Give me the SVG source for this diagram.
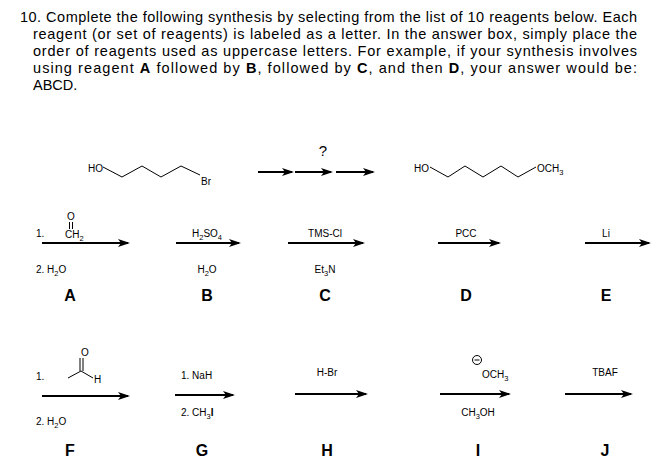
<svg xmlns="http://www.w3.org/2000/svg" width="655" height="476" viewBox="0 0 655 476">
<style>
text{font-family:"Liberation Sans",Arial,sans-serif;fill:#000}
.h{font-size:14.5px}
.l{font-size:10px}
.s{font-size:7.5px}
.big{font-size:16px;font-weight:bold;text-anchor:middle}
.m{text-anchor:middle}
.b{fill:none;stroke:#000;stroke-width:1}
.ar{stroke:#000;stroke-width:2;fill:none;marker-end:url(#ah)}
</style>
<defs><marker id="ah" markerWidth="12" markerHeight="8" refX="10" refY="4" orient="auto" markerUnits="userSpaceOnUse"><path d="M0,0 L12,4 L0,8 L3,4 Z" fill="#000"/></marker></defs>
<rect width="655" height="476" fill="#fff"/>
<g id="question">
<text class="h" x="20" y="22" textLength="617">10. Complete the following synthesis by selecting from the list of 10 reagents below. Each</text>
<text class="h" x="33" y="39" textLength="604">reagent (or set of reagents) is labeled as a letter. In the answer box, simply place the</text>
<text class="h" x="33" y="56" textLength="604">order of reagents used as uppercase letters. For example, if your synthesis involves</text>
<text class="h" x="33" y="73" textLength="604">using reagent <tspan font-weight="bold">A</tspan> followed by <tspan font-weight="bold">B</tspan>, followed by <tspan font-weight="bold">C</tspan>, and then <tspan font-weight="bold">D</tspan>, your answer would be:</text>
<text class="h" x="33" y="90">ABCD.</text>
</g>
<g id="start">
<text class="l" x="88" y="172">HO</text>
<polyline class="b" points="103,167 122,177 142,166 161,177 181,166 200,175"/>
<text class="l" x="201" y="185">Br</text>
</g>
<g id="product">
<text class="l" x="414" y="172">HO</text>
<polyline class="b" points="430,167 448,177 465,166 483,177 501,166 518,177 536,167"/>
<text class="l" x="537" y="172">OCH<tspan class="s" dy="3">3</tspan></text>
</g>
<text class="m" font-size="15" x="323" y="156">?</text>
<g id="connectors">
<line class="ar" x1="258" y1="172" x2="292" y2="172"/>
<line class="ar" x1="295" y1="172" x2="331" y2="172"/>
<line class="ar" x1="336" y1="172" x2="373" y2="172"/>
<line class="ar" x1="42" y1="243" x2="128" y2="243"/>
<line class="ar" x1="176" y1="243" x2="239" y2="243"/>
<line class="ar" x1="288" y1="243" x2="363" y2="243"/>
<line class="ar" x1="438" y1="243" x2="499" y2="243"/>
<line class="ar" x1="585" y1="243" x2="649" y2="243"/>
<line class="ar" x1="42" y1="396" x2="128" y2="396"/>
<line class="ar" x1="175" y1="395" x2="233" y2="395"/>
<line class="ar" x1="295" y1="394" x2="366" y2="394"/>
<line class="ar" x1="440" y1="394" x2="509" y2="394"/>
<line class="ar" x1="565" y1="394" x2="631" y2="394"/>
</g>
<g id="A">
<text class="l" x="36" y="237">1.</text>
<text class="l" x="67" y="220">O</text>
<line class="b" x1="69.5" y1="222" x2="69.5" y2="229"/><line class="b" x1="72.5" y1="222" x2="72.5" y2="229"/>
<text class="l" x="65" y="238">CH<tspan class="s" dy="3">2</tspan></text>
<text class="l" x="36" y="273">2. H<tspan class="s" dy="3">2</tspan><tspan dy="-3">O</tspan></text>
<text class="big" x="70" y="301">A</text>
</g>
<g id="B">
<text class="l m" x="207" y="237">H<tspan class="s" dy="3">2</tspan><tspan dy="-3">SO</tspan><tspan class="s" dy="3">4</tspan></text>
<text class="l m" x="207" y="273">H<tspan class="s" dy="3">2</tspan><tspan dy="-3">O</tspan></text>
<text class="big" x="207" y="301">B</text>
</g>
<g id="C">
<text class="l m" x="325" y="237">TMS-Cl</text>
<text class="l m" x="325" y="273">Et<tspan class="s" dy="3">3</tspan><tspan dy="-3">N</tspan></text>
<text class="big" x="325" y="301">C</text>
</g>
<g id="D">
<text class="l m" x="466" y="237">PCC</text>
<text class="big" x="466" y="301">D</text>
</g>
<g id="E">
<text class="l m" x="606" y="237">Li</text>
<text class="big" x="606" y="301">E</text>
</g>
<g id="F">
<text class="l" x="36" y="380">1.</text>
<text class="l" x="81" y="356">O</text>
<polyline class="b" points="68,378 81,371 93,378"/>
<line class="b" x1="80" y1="371" x2="80" y2="358"/><line class="b" x1="83" y1="371" x2="83" y2="358"/>
<text class="l" x="94" y="383">H</text>
<text class="l" x="36" y="425">2. H<tspan class="s" dy="3">2</tspan><tspan dy="-3">O</tspan></text>
<text class="big" x="70" y="456">F</text>
</g>
<g id="G">
<text class="l" x="181" y="379">1. NaH</text>
<text class="l" x="181" y="416">2. CH<tspan class="s" dy="3">3</tspan><tspan dy="-3" font-weight="bold">I</tspan></text>
<text class="big" x="202" y="456">G</text>
</g>
<g id="H">
<text class="l m" x="327" y="376">H-Br</text>
<text class="big" x="327" y="456">H</text>
</g>
<g id="I">
<circle class="b" cx="477" cy="360" r="4.5"/><line class="b" x1="474.5" y1="360" x2="479.5" y2="360"/>
<text class="l" x="482" y="378">OCH<tspan class="s" dy="3">3</tspan></text>
<text class="l m" x="478" y="416">CH<tspan class="s" dy="3">3</tspan><tspan dy="-3">OH</tspan></text>
<text class="big" x="478" y="456">I</text>
</g>
<g id="J">
<text class="l m" x="605" y="376">TBAF</text>
<text class="big" x="605" y="456">J</text>
</g>
</svg>
